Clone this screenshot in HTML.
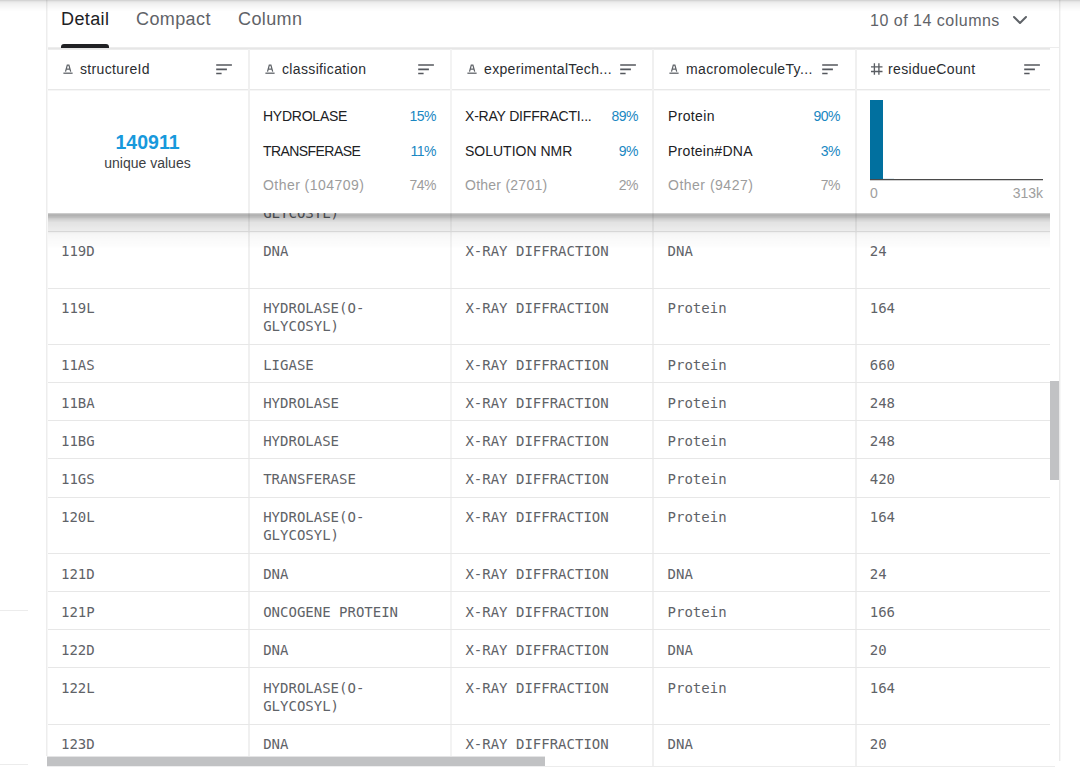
<!DOCTYPE html>
<html><head><meta charset="utf-8">
<style>
*{box-sizing:border-box;margin:0;padding:0}
html,body{width:1080px;height:777px;overflow:hidden;background:#fff}
body{position:relative;font-family:"Liberation Sans",Arial,sans-serif;color:#202124}
.abs{position:absolute}
#topshadow{left:0;top:0;width:1080px;height:12px;z-index:50;
 background:linear-gradient(to bottom,rgba(0,0,0,.17) 0.5px,rgba(0,0,0,.11) 1.5px,rgba(0,0,0,.08) 2.5px,rgba(0,0,0,.063) 3.5px,rgba(0,0,0,.05) 4.5px,rgba(0,0,0,.043) 5.5px,rgba(0,0,0,.035) 6.5px,rgba(0,0,0,.027) 7.5px,rgba(0,0,0,.02) 8.5px,rgba(0,0,0,.012) 9.5px,rgba(0,0,0,.006) 10.5px,rgba(0,0,0,0) 11.5px)}
#lborder{left:46px;top:0;width:1px;height:756px;background:#ededed;box-shadow:1px 0 0 #f6f6f6;z-index:30}
#rborder{left:1059px;top:0;width:1px;height:761px;background:#ebebeb;box-shadow:1px 0 0 #f7f7f7}
#bborder{left:545px;top:766px;width:510px;height:1px;background:#ececec}
.sideline{left:0;width:28px;height:1px;background:#ececec}
/* tabs */
.tab{top:7px;font-size:18px;line-height:24px;color:#5f6368;white-space:nowrap;letter-spacing:0.4px}
#tabline{left:47px;top:47px;width:1012px;height:1px;background:#ededed}
#tabul{left:61px;top:44px;width:48px;height:4px;background:#202124;border-radius:3px 3px 0 0;z-index:3}
#cols{left:870px;top:9.5px;font-size:16px;line-height:22px;color:#5f6368;white-space:nowrap;letter-spacing:0.5px}
/* table viewport */
#view{left:47px;top:48px;width:1003px;height:718px;overflow:hidden}
#sticky{left:0;top:0;width:1003px;height:165px;background:#fff;z-index:10}
#hdrtop{left:0;top:0;width:1003px;height:1px;background:#e6e6e6;box-shadow:0 1px 0 #ededed}
#hdrbot{left:0;top:41px;width:1003px;height:1px;background:#e8e8e8;box-shadow:0 1px 0 #f6f6f6}
.vsep{width:2px;background:#f0f0f0}
.dsep{top:0;width:2px;height:718px;background:#f0f0f0}
.hcell{top:1.4px;height:40px;font-size:14px;line-height:40px;color:#2a2c30;white-space:nowrap;letter-spacing:0.35px}
.sorticon{top:16px;width:17px;height:11px}
.lbl{font-size:14px;line-height:18px;color:#202124;white-space:nowrap}
.pct{font-size:14px;line-height:18px;color:#1a87c2;white-space:nowrap;text-align:right;letter-spacing:-0.5px}
.oth{color:#9c9c9c}
#shadow{left:0;top:165px;width:1003px;height:36px;z-index:9;pointer-events:none;
 background:linear-gradient(to bottom,rgba(0,0,0,.20) 0.5px,rgba(0,0,0,.29) 1.5px,rgba(0,0,0,.30) 2.5px,rgba(0,0,0,.275) 3.5px,rgba(0,0,0,.25) 4.5px,rgba(0,0,0,.205) 5.5px,rgba(0,0,0,.175) 6.5px,rgba(0,0,0,.153) 7.5px,rgba(0,0,0,.133) 8.5px,rgba(0,0,0,.11) 9.5px,rgba(0,0,0,.098) 12.5px,rgba(0,0,0,.078) 16.5px,rgba(0,0,0,.075) 17.5px,rgba(0,0,0,.063) 19.5px,rgba(0,0,0,.043) 20.5px,rgba(0,0,0,.031) 22.5px,rgba(0,0,0,.024) 25.5px,rgba(0,0,0,.016) 29.5px,rgba(0,0,0,.012) 32.5px,rgba(0,0,0,0) 35.5px)}
/* rows */
#rows{left:0;top:127.4px;width:1011px}
.row{position:relative;height:38.1px;border-bottom:1px solid #e7e7e7;display:flex}
.row.d{height:56.6px}
.c{width:202.2px;flex:none;padding:10.4px 0 0 14px;font-family:"DejaVu Sans Mono","Liberation Mono",monospace;font-size:14px;line-height:18.5px;color:#5f6368;white-space:nowrap;overflow:hidden}
#vthumb{left:1050px;top:381px;width:9px;height:99px;background:#c1c2c4;z-index:20}
#hthumb{left:47px;top:757px;width:498px;height:9px;background:#c1c2c4;z-index:20;box-shadow:0 -1px 0 #e4e4e5,0 1px 0 #eeeeef}
</style></head><body>
<div id="topshadow" class="abs"></div>
<div id="lborder" class="abs"></div>
<div id="rborder" class="abs"></div>
<div id="bborder" class="abs"></div>
<div class="abs sideline" style="top:610px"></div>
<div class="abs sideline" style="top:764px"></div>

<div class="abs tab" style="left:61px;color:#202124">Detail</div>
<div class="abs tab" style="left:136px">Compact</div>
<div class="abs tab" style="left:238px">Column</div>
<div id="tabul" class="abs"></div>
<div id="tabline" class="abs"></div>
<div id="cols" class="abs">10 of 14 columns</div>
<svg class="abs" style="left:1012px;top:13.5px" width="16" height="12" viewBox="0 0 16 12"><path d="M2 3 L8 9 L14 3" fill="none" stroke="#5f6368" stroke-width="2" stroke-linecap="round" stroke-linejoin="round"/></svg>

<div id="view" class="abs">
 <div class="abs dsep" style="left:201px"></div><div class="abs dsep" style="left:403px;background:#f3f3f3"></div><div class="abs dsep" style="left:605px"></div><div class="abs dsep" style="left:808px"></div>
 <div id="rows" class="abs">
  <div class="row d"><div class="c">118L</div><div class="c">HYDROLASE(O-<br>GLYCOSYL)</div><div class="c">X-RAY DIFFRACTION</div><div class="c">Protein</div><div class="c">164</div></div>
  <div class="row d"><div class="c">119D</div><div class="c">DNA</div><div class="c">X-RAY DIFFRACTION</div><div class="c">DNA</div><div class="c">24</div></div>
  <div class="row d"><div class="c">119L</div><div class="c">HYDROLASE(O-<br>GLYCOSYL)</div><div class="c">X-RAY DIFFRACTION</div><div class="c">Protein</div><div class="c">164</div></div>
  <div class="row"><div class="c">11AS</div><div class="c">LIGASE</div><div class="c">X-RAY DIFFRACTION</div><div class="c">Protein</div><div class="c">660</div></div>
  <div class="row"><div class="c">11BA</div><div class="c">HYDROLASE</div><div class="c">X-RAY DIFFRACTION</div><div class="c">Protein</div><div class="c">248</div></div>
  <div class="row"><div class="c">11BG</div><div class="c">HYDROLASE</div><div class="c">X-RAY DIFFRACTION</div><div class="c">Protein</div><div class="c">248</div></div>
  <div class="row"><div class="c">11GS</div><div class="c">TRANSFERASE</div><div class="c">X-RAY DIFFRACTION</div><div class="c">Protein</div><div class="c">420</div></div>
  <div class="row d"><div class="c">120L</div><div class="c">HYDROLASE(O-<br>GLYCOSYL)</div><div class="c">X-RAY DIFFRACTION</div><div class="c">Protein</div><div class="c">164</div></div>
  <div class="row"><div class="c">121D</div><div class="c">DNA</div><div class="c">X-RAY DIFFRACTION</div><div class="c">DNA</div><div class="c">24</div></div>
  <div class="row"><div class="c">121P</div><div class="c">ONCOGENE PROTEIN</div><div class="c">X-RAY DIFFRACTION</div><div class="c">Protein</div><div class="c">166</div></div>
  <div class="row"><div class="c">122D</div><div class="c">DNA</div><div class="c">X-RAY DIFFRACTION</div><div class="c">DNA</div><div class="c">20</div></div>
  <div class="row d"><div class="c">122L</div><div class="c">HYDROLASE(O-<br>GLYCOSYL)</div><div class="c">X-RAY DIFFRACTION</div><div class="c">Protein</div><div class="c">164</div></div>
  <div class="row d"><div class="c">123D</div><div class="c">DNA</div><div class="c">X-RAY DIFFRACTION</div><div class="c">DNA</div><div class="c">20</div></div>
 </div>
 <div id="shadow" class="abs"></div>
 <div id="sticky" class="abs">
  <div id="hdrtop" class="abs"></div>
  <div id="hdrbot" class="abs"></div>
  <div class="abs vsep" style="left:201px;top:1px;height:164px"></div>
  <div class="abs vsep" style="left:403px;top:1px;height:164px;background:#f3f3f3"></div>
  <div class="abs vsep" style="left:605px;top:1px;height:164px"></div>
  <div class="abs vsep" style="left:808px;top:1px;height:164px"></div>
  <!-- header cells -->
  <svg class="abs" style="left:16px;top:16px" width="11" height="10" viewBox="0 0 11 10"><path d="M2.5 7.6 L4.3 1.2 H5.9 L7.7 7.6 M3.4 5.2 H6.8" fill="none" stroke="#5f6368" stroke-width="1.25"/><path d="M0.4 9.2 H9.6" stroke="#5f6368" stroke-width="1.3"/></svg>
  <div class="abs hcell" style="left:33px">structureId</div>
  <svg class="abs sorticon" style="left:169px" viewBox="0 0 17 11"><path d="M0.2 1 H15.9 M0.2 5.3 H10.9 M0.2 9.5 H5.6" stroke="#55585e" stroke-width="1.7"/></svg>

  <svg class="abs" style="left:218px;top:16px" width="11" height="10" viewBox="0 0 11 10"><path d="M2.5 7.6 L4.3 1.2 H5.9 L7.7 7.6 M3.4 5.2 H6.8" fill="none" stroke="#5f6368" stroke-width="1.25"/><path d="M0.4 9.2 H9.6" stroke="#5f6368" stroke-width="1.3"/></svg>
  <div class="abs hcell" style="left:235px">classification</div>
  <svg class="abs sorticon" style="left:371px" viewBox="0 0 17 11"><path d="M0.2 1 H15.9 M0.2 5.3 H10.9 M0.2 9.5 H5.6" stroke="#55585e" stroke-width="1.7"/></svg>

  <svg class="abs" style="left:420px;top:16px" width="11" height="10" viewBox="0 0 11 10"><path d="M2.5 7.6 L4.3 1.2 H5.9 L7.7 7.6 M3.4 5.2 H6.8" fill="none" stroke="#5f6368" stroke-width="1.25"/><path d="M0.4 9.2 H9.6" stroke="#5f6368" stroke-width="1.3"/></svg>
  <div class="abs hcell" style="left:437px">experimentalTech...</div>
  <svg class="abs sorticon" style="left:573px" viewBox="0 0 17 11"><path d="M0.2 1 H15.9 M0.2 5.3 H10.9 M0.2 9.5 H5.6" stroke="#55585e" stroke-width="1.7"/></svg>

  <svg class="abs" style="left:622px;top:16px" width="11" height="10" viewBox="0 0 11 10"><path d="M2.5 7.6 L4.3 1.2 H5.9 L7.7 7.6 M3.4 5.2 H6.8" fill="none" stroke="#5f6368" stroke-width="1.25"/><path d="M0.4 9.2 H9.6" stroke="#5f6368" stroke-width="1.3"/></svg>
  <div class="abs hcell" style="left:639px">macromoleculeTy...</div>
  <svg class="abs sorticon" style="left:775px" viewBox="0 0 17 11"><path d="M0.2 1 H15.9 M0.2 5.3 H10.9 M0.2 9.5 H5.6" stroke="#55585e" stroke-width="1.7"/></svg>

  <svg class="abs" style="left:823px;top:15px" width="14" height="13" viewBox="0 0 14 13"><path d="M4.4 0.3 V11.7 M8.9 0.3 V11.7 M1 3.8 H12.5 M1 8.5 H12.5" fill="none" stroke="#5a5e63" stroke-width="1.35"/></svg>
  <div class="abs hcell" style="left:841px">residueCount</div>
  <svg class="abs sorticon" style="left:977px" viewBox="0 0 17 11"><path d="M0.2 1 H15.9 M0.2 5.3 H10.9 M0.2 9.5 H5.6" stroke="#55585e" stroke-width="1.7"/></svg>

  <!-- stats -->
  <div class="abs" style="left:0;top:83px;width:201px;text-align:center;font-weight:bold;font-size:19.5px;line-height:22px;color:#1899dc">140911</div>
  <div class="abs" style="left:0;top:106px;width:201px;text-align:center;font-size:14px;line-height:18px;color:#3c4043">unique values</div>

  <div class="abs lbl" style="left:216px;top:59px;letter-spacing:-0.24px">HYDROLASE</div>
  <div class="abs pct" style="left:340px;width:49px;top:59px">15%</div>
  <div class="abs lbl" style="left:216px;top:94px;letter-spacing:-0.57px">TRANSFERASE</div>
  <div class="abs pct" style="left:340px;width:49px;top:94px">11%</div>
  <div class="abs lbl oth" style="left:216px;top:128px;letter-spacing:0.45px">Other (104709)</div>
  <div class="abs pct oth" style="left:340px;width:49px;top:128px">74%</div>

  <div class="abs lbl" style="left:418px;top:59px;letter-spacing:-0.2px">X-RAY DIFFRACTI...</div>
  <div class="abs pct" style="left:542px;width:49px;top:59px">89%</div>
  <div class="abs lbl" style="left:418px;top:94px">SOLUTION NMR</div>
  <div class="abs pct" style="left:542px;width:49px;top:94px">9%</div>
  <div class="abs lbl oth" style="left:418px;top:128px;letter-spacing:0.25px">Other (2701)</div>
  <div class="abs pct oth" style="left:542px;width:49px;top:128px">2%</div>

  <div class="abs lbl" style="left:621px;top:59px;letter-spacing:0.35px">Protein</div>
  <div class="abs pct" style="left:744px;width:49px;top:59px">90%</div>
  <div class="abs lbl" style="left:621px;top:94px;letter-spacing:0.28px">Protein#DNA</div>
  <div class="abs pct" style="left:744px;width:49px;top:94px">3%</div>
  <div class="abs lbl oth" style="left:621px;top:128px;letter-spacing:0.5px">Other (9427)</div>
  <div class="abs pct oth" style="left:744px;width:49px;top:128px">7%</div>

  <!-- histogram -->
  <div class="abs" style="left:823px;top:52px;width:13px;height:79px;background:#01709f"></div>
  <div class="abs" style="left:836px;top:130px;width:11px;height:1px;background:#e2eef4"></div>
  <div class="abs" style="left:823px;top:131px;width:173px;height:1px;background:#4a4a4a;box-shadow:0 1px 0 #cfcfcf"></div>
  <div class="abs" style="left:823px;top:137px;font-size:14px;line-height:16px;color:#9e9e9e">0</div>
  <div class="abs" style="left:946px;width:50px;text-align:right;top:137px;font-size:14px;line-height:16px;color:#9e9e9e">313k</div>
 </div>
</div>
<div id="vthumb" class="abs"></div>
<div id="hthumb" class="abs"></div>
</body></html>
